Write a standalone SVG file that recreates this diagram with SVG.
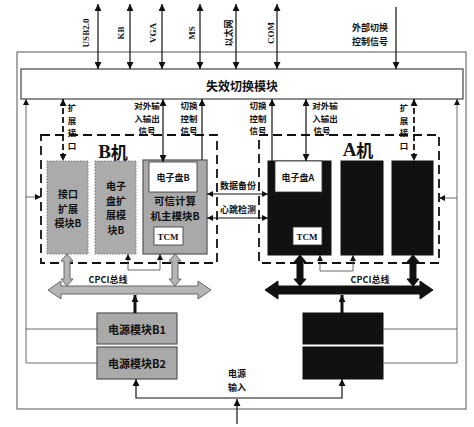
<svg xmlns="http://www.w3.org/2000/svg" width="474" height="427" viewBox="0 0 474 427">
<style>
text{font-family:"Liberation Serif","Noto Sans CJK SC",serif;fill:#111;text-anchor:middle;dominant-baseline:central}
.cj{font-family:"Noto Sans CJK SC",sans-serif;font-weight:bold}
.s9{font-size:9px}
.s8{font-size:8.5px}
.s10{font-size:10px}
.s11{font-size:11px}
.ln{fill:none;stroke:#111;stroke-width:1.2}
.thin{fill:none;stroke:#444;stroke-width:0.8}
.dash{fill:none;stroke:#111;stroke-width:1.8;stroke-dasharray:9,5}
.dl{fill:none;stroke:#111;stroke-width:1.8;stroke-dasharray:6,3}
.gray{fill:#ababab;stroke:#777;stroke-width:1;stroke-dasharray:1.5,1.5}
.grays{fill:#a9a9a9;stroke:#555;stroke-width:1.2}
.blk{fill:#111;stroke:#111}
.wht{fill:#fff;stroke:#333;stroke-width:0.8}
.gbus{fill:#b5b5b5;stroke:#666;stroke-width:1}
.bbus{fill:#111;stroke:#111;stroke-width:1}
</style>
<defs>
<marker id="ah" viewBox="0 0 10 10" markerUnits="userSpaceOnUse" markerWidth="7" markerHeight="7" refX="10" refY="5" orient="auto-start-reverse"><path d="M0,0 L10,5 L0,10 z" fill="#111"/></marker>
<marker id="ahs" viewBox="0 0 10 10" markerUnits="userSpaceOnUse" markerWidth="6" markerHeight="6" refX="10" refY="5" orient="auto-start-reverse"><path d="M0,0 L10,5 L0,10 z" fill="#111"/></marker>
</defs>

<g id="outer"><rect x="17" y="52" width="449" height="357" fill="none" stroke="#555" stroke-width="1"/></g>

<g id="switch-module">
<rect x="21" y="69" width="442" height="30" fill="#fff" stroke="#444" stroke-width="1.2"/>
<text x="242" y="85" class="cj" font-size="12">失效切换模块</text>
</g>

<g id="top-labels">
<text transform="translate(86,33) rotate(-90)" class="s9" font-weight="bold">USB2.0</text>
<text transform="translate(121,33) rotate(-90)" class="s9" font-weight="bold">KB</text>
<text transform="translate(153,33) rotate(-90)" class="s9" font-weight="bold">VGA</text>
<text transform="translate(192,33) rotate(-90)" class="s9" font-weight="bold">MS</text>
<text transform="translate(228,33) rotate(-90)" class="s9 cj">以太网</text>
<text transform="translate(271,33) rotate(-90)" class="s9" font-weight="bold">COM</text>
<text x="370" y="27" class="s9 cj">外部切换<tspan x="370" dy="13.5">控制信号</tspan></text>
</g>

<g id="machine-B">
<rect x="41" y="135" width="176" height="128" class="dash"/>
<text x="113" y="151" font-size="19" font-weight="bold">B<tspan class="cj" font-size="17">机</tspan></text>
<g id="iface-ext-B">
<rect x="47" y="161" width="41" height="93" class="gray"/>
<text x="68" y="193" class="s10 cj">接口<tspan x="68" dy="14.6">扩展</tspan><tspan x="68" dy="14.6">模块B</tspan></text>
</g>
<g id="disk-ext-B">
<rect x="95" y="161" width="41" height="93" class="gray"/>
<text x="116" y="185" class="s10 cj">电子<tspan x="116" dy="14.6">盘扩</tspan><tspan x="116" dy="14.6">展模</tspan><tspan x="116" dy="14.6">块B</tspan></text>
</g>
<g id="main-B">
<rect x="143" y="160" width="64" height="94" class="grays"/>
<rect x="149" y="162" width="48" height="30" class="wht"/>
<text x="173" y="177" class="s9 cj">电子盘B</text>
<text x="175" y="200" font-size="10.5" class="cj">可信计算<tspan x="175" dy="15.4">机主模块B</tspan></text>
<rect x="154" y="227" width="29" height="18" class="wht"/>
<text x="168" y="237" class="s9" font-weight="bold">TCM</text>
</g>
</g>

<g id="machine-A">
<rect x="259" y="135" width="180" height="128" class="dash"/>
<text x="358" y="149" font-size="19" font-weight="bold">A<tspan class="cj" font-size="17">机</tspan></text>
<g id="main-A">
<rect x="268" y="161" width="63" height="94" class="blk"/>
<rect x="275" y="161" width="47" height="31" class="wht"/>
<text x="298" y="177" class="s9 cj">电子盘A</text>
<rect x="293" y="227" width="29" height="18" class="wht"/>
<text x="307" y="237" class="s9" font-weight="bold">TCM</text>
</g>
<g id="disk-ext-A"><rect x="341" y="161" width="42" height="94" class="blk"/></g>
<g id="iface-ext-A"><rect x="392" y="161" width="41" height="94" class="blk"/></g>
</g>

<g id="power-B1"><rect x="97" y="313" width="80" height="31" class="grays"/><text x="137" y="329" class="s11 cj">电源模块B1</text></g>
<g id="power-B2"><rect x="97" y="347" width="80" height="32" class="grays"/><text x="137" y="363" class="s11 cj">电源模块B2</text></g>
<g id="power-A1"><rect x="303" y="313" width="80" height="31" class="blk"/></g>
<g id="power-A2"><rect x="303" y="347" width="80" height="32" class="blk"/></g>

<g id="bus-B">
<polygon class="gbus" points="48,290 61,281 61,286 198,286 198,281 211,290 198,299 198,294 61,294 61,299"/>
<text x="108" y="279" class="s9 cj">CPCI总线</text>
</g>
<g id="bus-A">
<polygon class="bbus" points="265,290 278,281 278,286 420,286 420,281 433,290 420,299 420,294 278,294 278,299"/>
<text x="370" y="279" class="s9 cj">CPCI总线</text>
</g>

<g id="connectors">
<line x1="98" y1="4" x2="98" y2="69" class="ln" marker-start="url(#ah)" marker-end="url(#ah)"/>
<line x1="130" y1="4" x2="130" y2="69" class="ln" marker-start="url(#ah)" marker-end="url(#ah)"/>
<line x1="162" y1="4" x2="162" y2="69" class="ln" marker-start="url(#ah)" marker-end="url(#ah)"/>
<line x1="200" y1="4" x2="200" y2="69" class="ln" marker-start="url(#ah)" marker-end="url(#ah)"/>
<line x1="236" y1="4" x2="236" y2="69" class="ln" marker-start="url(#ah)" marker-end="url(#ah)"/>
<line x1="277" y1="4" x2="277" y2="69" class="ln" marker-start="url(#ah)" marker-end="url(#ah)"/>
<line x1="396" y1="7" x2="396" y2="69" class="ln" stroke-width="1.8" marker-end="url(#ah)"/>

<path d="M26,363 L26,99" class="thin" marker-end="url(#ahs)"/>
<path d="M26,329 L97,329 M26,363 L97,363" class="thin"/>
<path d="M26,197 L41,197" class="thin" marker-end="url(#ahs)"/>
<path d="M457,363 L457,99" class="thin" marker-end="url(#ahs)"/>
<path d="M383,329 L457,329 M383,363 L457,363" class="thin"/>
<path d="M457,198 L439,198" class="thin" marker-end="url(#ahs)"/>

<line x1="63" y1="99" x2="63" y2="161" class="dl" marker-start="url(#ah)" marker-end="url(#ah)"/>
<text x="72" y="107" class="s8 cj">扩<tspan x="72" dy="12.5">展</tspan><tspan x="72" dy="12.5">接</tspan><tspan x="72" dy="12.5">口</tspan></text>
<line x1="163" y1="99" x2="163" y2="162" class="ln" stroke-width="1.4" marker-start="url(#ah)" marker-end="url(#ah)"/>
<text x="147" y="105" class="s8 cj">对外输<tspan x="147" dy="12.5">入输出</tspan><tspan x="147" dy="12.5">信号</tspan></text>
<line x1="202" y1="160" x2="202" y2="99" class="ln" stroke-width="1.4" marker-end="url(#ah)"/>
<text x="189" y="105" class="s8 cj">切换<tspan x="189" dy="12.5">控制</tspan><tspan x="189" dy="12.5">信号</tspan></text>

<line x1="272" y1="161" x2="272" y2="99" class="ln" stroke-width="1.4" marker-end="url(#ah)"/>
<text x="258" y="105" class="s8 cj">切换<tspan x="258" dy="12.5">控制</tspan><tspan x="258" dy="12.5">信号</tspan></text>
<line x1="306" y1="99" x2="306" y2="161" class="ln" stroke-width="1.4" marker-start="url(#ah)" marker-end="url(#ah)"/>
<text x="325" y="105" class="s8 cj">对外输<tspan x="325" dy="12.5">入输出</tspan><tspan x="322" dy="12.5">信号</tspan></text>
<line x1="414" y1="99" x2="414" y2="161" class="dl" marker-start="url(#ah)" marker-end="url(#ah)"/>
<text x="404" y="107" class="s8 cj">扩<tspan x="404" dy="12.5">展</tspan><tspan x="404" dy="12.5">接</tspan><tspan x="404" dy="12.5">口</tspan></text>

<line x1="207" y1="194" x2="268" y2="194" class="ln" marker-start="url(#ahs)" marker-end="url(#ahs)"/>
<text x="238" y="185" class="s9 cj">数据备份</text>
<line x1="207" y1="218" x2="268" y2="218" class="ln" marker-start="url(#ahs)" marker-end="url(#ahs)"/>
<text x="238" y="209" class="s9 cj">心跳检测</text>

<polygon class="gbus" points="67,254 73,261 70,261 70,279 73,279 67,286 61,279 64,279 64,261 61,261"/>
<polygon class="gbus" points="175,254 181,261 178,261 178,279 181,279 175,286 169,279 172,279 172,261 169,261"/>
<polygon class="bbus" points="300,255 306,262 303,262 303,279 306,279 300,286 294,279 297,279 297,262 294,262"/>
<polygon class="bbus" points="413,255 419,262 416,262 416,279 419,279 413,286 407,279 410,279 410,262 407,262"/>

<path d="M128,254 L128,270 L160,270 L160,254" class="thin" marker-start="url(#ahs)" marker-end="url(#ahs)"/>
<path d="M320,255 L320,271 L353,271 L353,255" class="thin" marker-start="url(#ahs)" marker-end="url(#ahs)"/>

<line x1="135" y1="313" x2="135" y2="295" stroke="#111" stroke-width="3" marker-end="url(#ah)"/>
<line x1="342" y1="313" x2="342" y2="295" stroke="#111" stroke-width="3" marker-end="url(#ah)"/>

<path d="M136,379 L136,398 L342,398 L342,379" class="ln" marker-start="url(#ah)" marker-end="url(#ah)"/>
<line x1="237" y1="424" x2="237" y2="399" class="ln" stroke-width="1.6" marker-end="url(#ah)"/>
<text x="237" y="373" class="s9 cj">电源<tspan x="237" dy="14">输入</tspan></text>
</g>
</svg>
